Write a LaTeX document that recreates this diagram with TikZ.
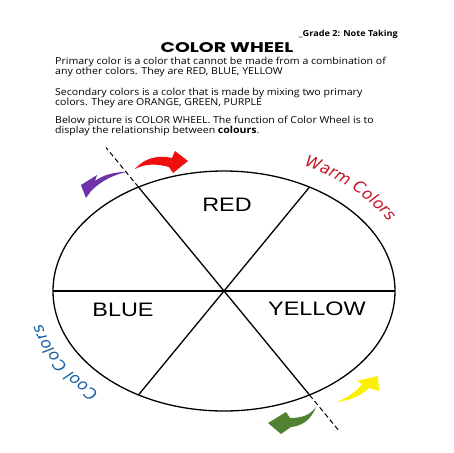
\documentclass[tikz,border=0pt]{standalone}
\usepackage{fontspec}
\setmainfont{Open Sans}[FakeStretch=1.1]
\newfontfamily\labelfont{Liberation Sans}[FakeStretch=1.2]
\newfontfamily\titlefont{Poppins}[FakeStretch=1.35]
\newfontfamily\handfont{DejaVu Sans}
\usetikzlibrary{calc,decorations.text}
\definecolor{warmred}{RGB}{200,20,40}
\definecolor{coolblue}{RGB}{25,95,165}
\definecolor{arrowred}{RGB}{240,15,15}
\definecolor{arrowpurple}{RGB}{110,50,170}
\definecolor{arrowgreen}{RGB}{80,130,50}
\definecolor{arrowyellow}{RGB}{250,240,0}
\tikzset{
	note/.style={anchor=base west, inner sep=0pt, font=\fontsize{9.6}{10}\selectfont},
	slice/.style={inner sep=0pt, font=\labelfont\fontsize{19.5}{20}\selectfont},
	wheelline/.style={line width=1.3pt},
	along/.style={decorate, decoration={text along path, text align=center, text color=#1}},
}
\def\handtext{\handfont\itshape\fontsize{16}{16}\selectfont}

\begin{document}
\begin{tikzpicture}[x=1pt, y=-1pt]
			%%%%% START %%%%%
			\fill[white] (0,0) rectangle (453,453);
			\useasboundingbox (0,0) rectangle (453,453);
			
			\node[anchor=base east, inner sep=0pt, font=\bfseries\fontsize{8.3}{8}\selectfont] (grade) at (398,36) {\_Grade 2: Note Taking};
			\node[anchor=base, inner sep=0pt, font=\titlefont\bfseries\fontsize{14}{14}\selectfont] (title) at (227,52) {COLOR WHEEL};
			
			\node[note] (primary1) at (55,64) {Primary color is a color that cannot be made from a combination of};
			\node[note] (primary2) at (55,74) {any other colors. They are RED, BLUE, YELLOW};
			\node[note] (second1) at (55,95) {Secondary colors is a color that is made by mixing two primary};
			\node[note] (second2) at (55,105) {colors. They are ORANGE, GREEN, PURPLE};
			\node[note] (below1) at (55,123) {Below picture is COLOR WHEEL. The function of Color Wheel is to};
			\node[note] (below2) at (55,133) {display the relationship between \textbf{colours}.};
			
			\coordinate (c) at (224,291);
			\coordinate (p0) at ($(c)+(0:171pt and 120pt)$);
			\coordinate (p60) at ($(c)+(60:171pt and 120pt)$);
			\coordinate (p120) at ($(c)+(120:171pt and 120pt)$);
			\coordinate (p180) at ($(c)+(180:171pt and 120pt)$);
			\coordinate (p240) at ($(c)+(240:171pt and 120pt)$);
			\coordinate (p300) at ($(c)+(300:171pt and 120pt)$);
			
			\draw[wheelline] (c) ellipse [x radius=171pt, y radius=120pt];
			\draw[wheelline] (p180) -- (p0);
			\draw[wheelline] (p60) -- (p240);
			\draw[wheelline] (p120) -- (p300);
			\draw[line width=1pt, dash pattern=on 5pt off 3pt] (p120) -- ($(c)!1.38!(p120)$);
			\draw[line width=1pt, dash pattern=on 5pt off 3pt] (p300) -- ($(c)!1.34!(p300)$);
			
			\node[slice] (red) at (227,205) {RED};
			\node[slice] (blue) at (123,310) {BLUE};
			\node[slice] (yellow) at (317,309) {YELLOW};
			
			% warm / cool
			\path[along=warmred, decoration={text={|\handtext|Warm Colors}}]
				($(c)+(70:190pt and 138pt)$) arc[start angle=70, end angle=24, x radius=190pt, y radius=138pt];
			\path[along=coolblue, decoration={text={|\handtext|Cool Colors}}]
				($(c)+(233:188pt and 136pt)$) arc[start angle=233, end angle=188, x radius=188pt, y radius=136pt];
			
			% arrows
			\fill[arrowred] (135,169) .. controls (145,157) and (160,155) .. (172,158) -- (175,151) -- (188,161) -- (173,173) -- (169,167) .. controls (158,164) and (146,163) .. (135,169) -- cycle;
			\fill[arrowpurple] (126,172) .. controls (114,172) and (103,175) .. (95,181) -- (97,175) -- (81,185) -- (86,198) -- (91,191) .. controls (102,180) and (114,175) .. (126,172) -- cycle;
			\fill[arrowgreen] (316,407) .. controls (310,415) and (302,418) .. (290,418) -- (286,412) -- (268,423) -- (281,434) -- (291,427) .. controls (302,426) and (311,420) .. (316,407) -- cycle;
			\fill[arrowyellow] (337,402) .. controls (352,400) and (362,395) .. (369,388) -- (379,391) -- (378,376) -- (357,381) -- (362,384) .. controls (356,392) and (348,397) .. (337,402) -- cycle;
			%%%%% END %%%%%
		\end{tikzpicture}
\end{document}
